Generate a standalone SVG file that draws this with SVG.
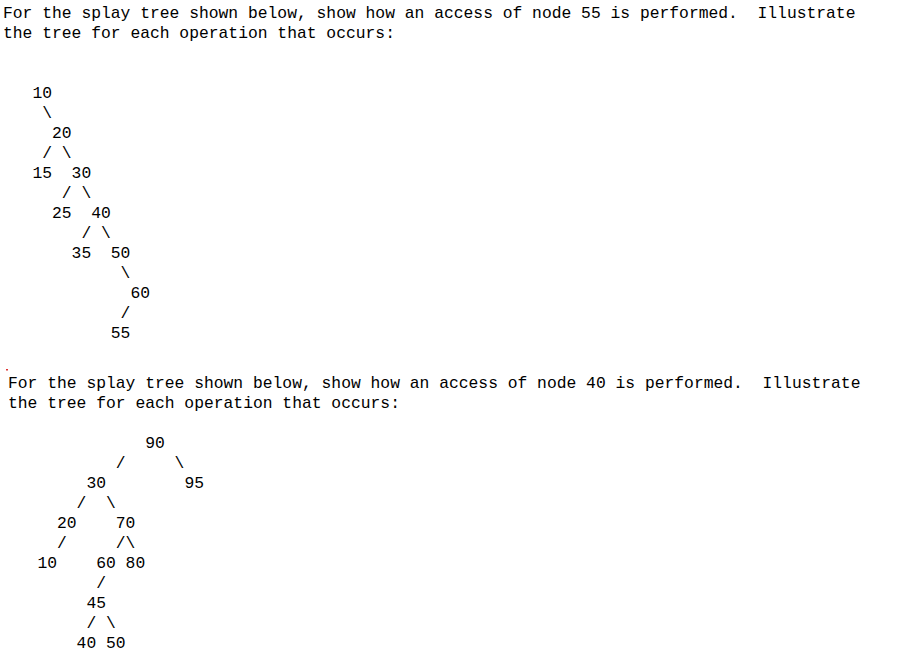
<svg xmlns="http://www.w3.org/2000/svg" width="919" height="664" viewBox="0 0 919 664">
<style>
text{font-family:"Liberation Mono","DejaVu Sans Mono",monospace;font-size:16.33px;fill:#000;white-space:pre}
</style>
<rect width="919" height="664" fill="#fff"/>
<g id="heading1">
<text x="3" y="18.3" xml:space="preserve">For the splay tree shown below, show how an access of node 55 is performed.  Illustrate</text>
<text x="3" y="38.3">the tree for each operation that occurs:</text>
</g>
<g id="tree1">
<g id="t1-n10"><text x="32.4" y="98.3">10</text></g>
<g id="t1-n20"><text x="52" y="138.3">20</text></g>
<g id="t1-n15"><text x="32.4" y="178.3">15</text></g>
<g id="t1-n30"><text x="71.6" y="178.3">30</text></g>
<g id="t1-n25"><text x="52" y="218.3">25</text></g>
<g id="t1-n40"><text x="91.2" y="218.3">40</text></g>
<g id="t1-n35"><text x="71.6" y="258.3">35</text></g>
<g id="t1-n50"><text x="110.8" y="258.3">50</text></g>
<g id="t1-n60"><text x="130.4" y="298.3">60</text></g>
<g id="t1-n55"><text x="110.8" y="338.3">55</text></g>
<g id="t1-connectors">
<text x="42.2" y="118.3">\</text>
<text x="42.2" y="158.3">/</text>
<text x="61.8" y="158.3">\</text>
<text x="61.8" y="198.3">/</text>
<text x="81.4" y="198.3">\</text>
<text x="81.4" y="238.3">/</text>
<text x="101" y="238.3">\</text>
<text x="120.6" y="278.3">\</text>
<text x="120.6" y="318.3">/</text>
</g>
</g>
<rect x="6" y="369" width="2" height="1.5" fill="#d33"/>
<g id="heading2">
<text x="8" y="387.7" xml:space="preserve">For the splay tree shown below, show how an access of node 40 is performed.  Illustrate</text>
<text x="8" y="407.7">the tree for each operation that occurs:</text>
</g>
<g id="tree2">
<g id="t2-n90"><text x="145.2" y="447.7">90</text></g>
<g id="t2-n30"><text x="86.4" y="487.7">30</text></g>
<g id="t2-n95"><text x="184.4" y="487.7">95</text></g>
<g id="t2-n20"><text x="57" y="527.7">20</text></g>
<g id="t2-n70"><text x="115.8" y="527.7">70</text></g>
<g id="t2-n10"><text x="37.4" y="567.7">10</text></g>
<g id="t2-n60"><text x="96.2" y="567.7">60</text></g>
<g id="t2-n80"><text x="125.6" y="567.7">80</text></g>
<g id="t2-n45"><text x="86.4" y="607.7">45</text></g>
<g id="t2-n40"><text x="76.6" y="647.7">40</text></g>
<g id="t2-n50"><text x="106" y="647.7">50</text></g>
<g id="t2-connectors">
<text x="115.8" y="467.7">/</text>
<text x="174.6" y="467.7">\</text>
<text x="76.6" y="507.7">/</text>
<text x="106" y="507.7">\</text>
<text x="57" y="547.7">/</text>
<text x="115.8" y="547.7">/</text>
<text x="125.6" y="547.7">\</text>
<text x="96.2" y="587.7">/</text>
<text x="86.4" y="627.7">/</text>
<text x="106" y="627.7">\</text>
</g>
</g>
</svg>
